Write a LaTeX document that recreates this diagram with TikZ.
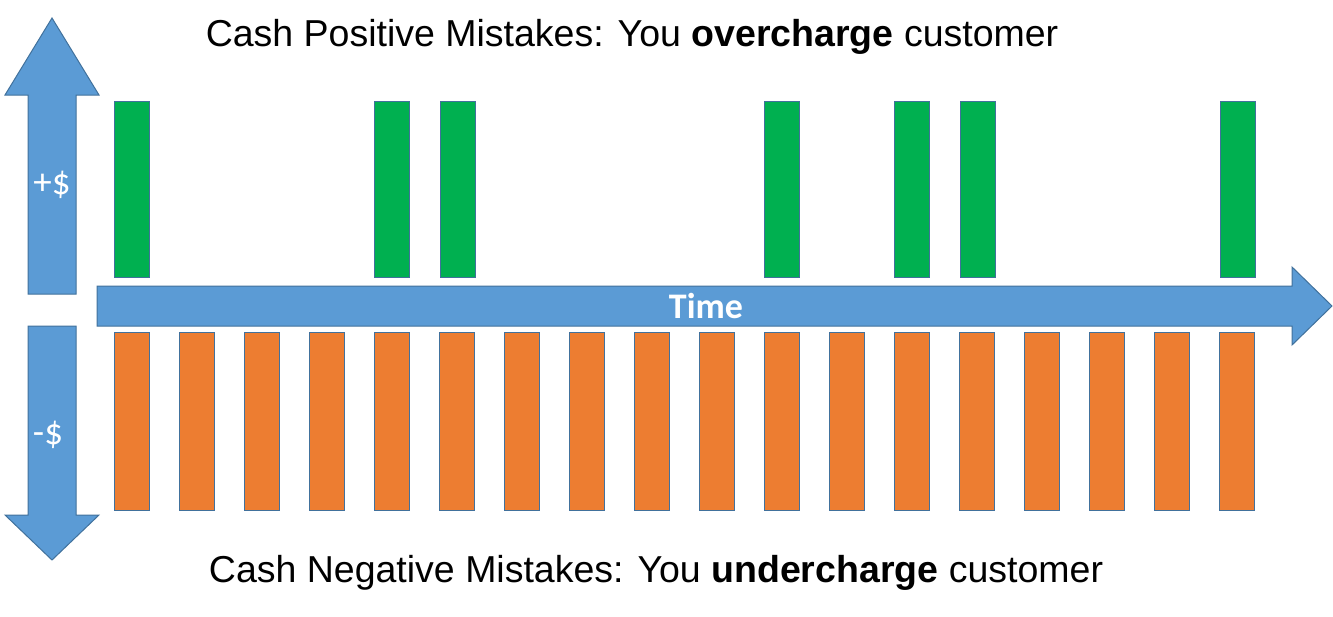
\documentclass[tikz,border=0pt]{standalone}
\usepackage{fontspec}
\setmainfont{Liberation Sans}
\newfontfamily\carlitofont{Carlito}
\begin{document}
\begin{tikzpicture}[x=1pt,y=-1pt,
  arr/.style={fill={rgb,255:red,91;green,155;blue,213},draw={rgb,255:red,65;green,113;blue,156},line width=1pt},
  gbar/.style={fill={rgb,255:red,0;green,176;blue,80},draw={rgb,255:red,65;green,113;blue,156},line width=0.8pt},
  obar/.style={fill={rgb,255:red,237;green,125;blue,49},draw={rgb,255:red,65;green,113;blue,156},line width=0.8pt},
  ttl/.style={font=\fontsize{37.5}{40}\selectfont}]
\useasboundingbox (0,0) rectangle (1333,616);
\draw[arr] (28,294) -- (28,95) -- (5,95) -- (52,18) -- (99,95) -- (76,95) -- (76,294) -- cycle;
\draw[arr] (28,326) -- (28,515) -- (5,515) -- (52,560) -- (99,515) -- (76,515) -- (76,326) -- cycle;
\draw[arr] (97,286) -- (1292,286) -- (1292,267) -- (1332,306) -- (1292,345) -- (1292,326) -- (97,326) -- cycle;
\node[white,font=\carlitofont\bfseries\fontsize{36}{38}\selectfont] (time) at (706,306) {Time};
\node[white,font=\carlitofont\fontsize{37}{40}\selectfont] (plus) at (52,185) {+\$};
\node[white,font=\carlitofont\fontsize{37}{40}\selectfont] (minus) at (48,435) {-\$};
\foreach \x in {114,374,440,764,894,960,1220}
  \draw[gbar] (\x,101) rectangle ++(35,176);
\foreach \i in {0,...,17}
  \draw[obar] ({114+65*\i},332) rectangle ++(35,178);
\node[ttl] (top) at (632,37) {Cash Positive Mistakes: You \textbf{overcharge} customer};
\node[ttl] (bot) at (656,573) {Cash Negative Mistakes: You \textbf{undercharge} customer};
\end{tikzpicture}
\end{document}
